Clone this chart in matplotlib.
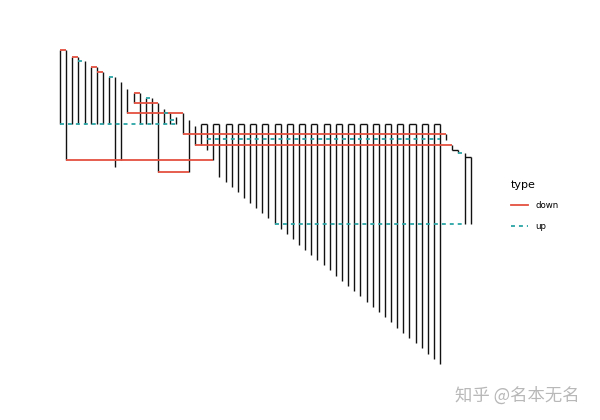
import matplotlib
matplotlib.use("Agg")
import matplotlib.pyplot as plt
from matplotlib.lines import Line2D
import numpy as np

# ---- data (x = position index, y = depth, larger = lower) ----
# vertical (black) segments
v_x   = [0, 1, 2, 3, 4, 5, 6, 7, 8, 9, 10, 11, 12, 13, 14, 15, 16, 17, 18, 19, 20, 21, 22,
         23, 24, 25, 26, 27, 28, 29, 30, 31, 32, 33, 34, 35, 36, 37, 38, 39, 40, 41, 42,
         43, 44, 45, 46, 47, 48, 49, 50, 51, 52, 53, 54, 55, 56, 57, 58, 59, 60, 61, 62,
         63, 64, 65, 66, 67]
v_top = [50, 50, 57, 57, 61, 67, 67, 72, 77, 77, 82, 89, 93, 93, 98, 98, 103, 109, 113, 117, 113, 120, 126,
         124, 124, 124, 124, 124, 124, 124, 124, 124, 124, 124, 124, 124, 124, 124, 124, 124, 124, 124, 124,
         124, 124, 124, 124, 124, 124, 124, 124, 124, 124, 124, 124, 124, 124, 124, 124, 124, 124, 124, 124,
         134, 145, 150, 153, 157]
v_bot = [124, 160, 124, 124, 124, 124, 124, 124, 124, 167, 160, 113, 103, 124, 124, 124, 172, 124, 124, 124, 134, 172, 145,
         145, 150, 160, 177, 182, 187, 192, 198, 203, 208, 213, 218, 224, 229, 234, 239, 245, 250, 255, 260,
         265, 270, 276, 281, 286, 291, 296, 302, 307, 312, 317, 322, 328, 333, 338, 343, 348, 354, 359, 364,
         140, 150, 153, 224, 224]

# top caps of the long lines (black)
cap_x0 = [23, 25, 27, 29, 31, 33, 35, 37, 39, 41, 43, 45, 47, 49, 51, 53, 55, 57, 59, 61, 64, 66]
cap_x1 = [24, 26, 28, 30, 32, 34, 36, 38, 40, 42, 44, 46, 48, 50, 52, 54, 56, 58, 60, 62, 65, 67]
cap_y  = [124] * 20 + [150, 157]

# coloured horizontal segments
h_x0   = [0, 2, 5, 6, 12, 12, 11, 20, 22, 1, 16,
          3, 8, 14, 0, 17, 18, 24, 35, 65]
h_x1   = [1, 3, 6, 7, 13, 16, 20, 63, 64, 25, 21,
          4, 9, 15, 19, 18, 19, 62, 66, 66]
h_y    = [50, 57, 67, 72, 93, 103, 113, 134, 145, 160, 172,
          61, 77, 98, 124, 113, 120, 139, 224, 153]
h_type = ["down"] * 11 + ["up"] * 9

# ---- layout ----
X0_PX, DX_PX = 60.0, 6.13
W, H = 600, 420
RED, TEAL = "#E4503F", "#2BA5A6"

fig = plt.figure(figsize=(6, 4.2), dpi=100)
ax = fig.add_axes([0, 0, 1, 1])
ax.set_xlim(-X0_PX / DX_PX, (W - X0_PX) / DX_PX)
ax.set_ylim(H, 0)
ax.axis("off")

ax.vlines(v_x, v_top, v_bot, colors="#111111", linewidth=1.0, zorder=2)
ax.hlines(cap_y, cap_x0, cap_x1, colors="#111111", linewidth=1.0, zorder=2)

for x0, x1, y, t in zip(h_x0, h_x1, h_y, h_type):
    if t == "down":
        ax.plot([x0, x1], [y, y], color=RED, linewidth=1.3, solid_capstyle="butt", zorder=3)
    else:
        ax.plot([x0, x1], [y, y], color=TEAL, linewidth=1.3, linestyle=(0, (2.2, 2.2)), zorder=3)

handles = [Line2D([], [], color=RED, linewidth=1.3),
           Line2D([], [], color=TEAL, linewidth=1.3, linestyle=(0, (2.2, 2.2)))]
leg = fig.legend(handles, ["down", "up"], title="type", loc="upper left",
                 bbox_to_anchor=(503 / W, 1 - 172 / H), frameon=False,
                 fontsize=6.2, title_fontsize=8, handlelength=2.0,
                 labelspacing=1.35, handletextpad=0.9, alignment="left")

fig.text(455 / W, 1 - 396 / H, "知乎 @名本无名", color="#b8b8b8", fontsize=12.5,
         va="center", ha="left", family=["Noto Sans CJK SC", "DejaVu Sans"])

fig.savefig("out.png", dpi=100, facecolor="white")
